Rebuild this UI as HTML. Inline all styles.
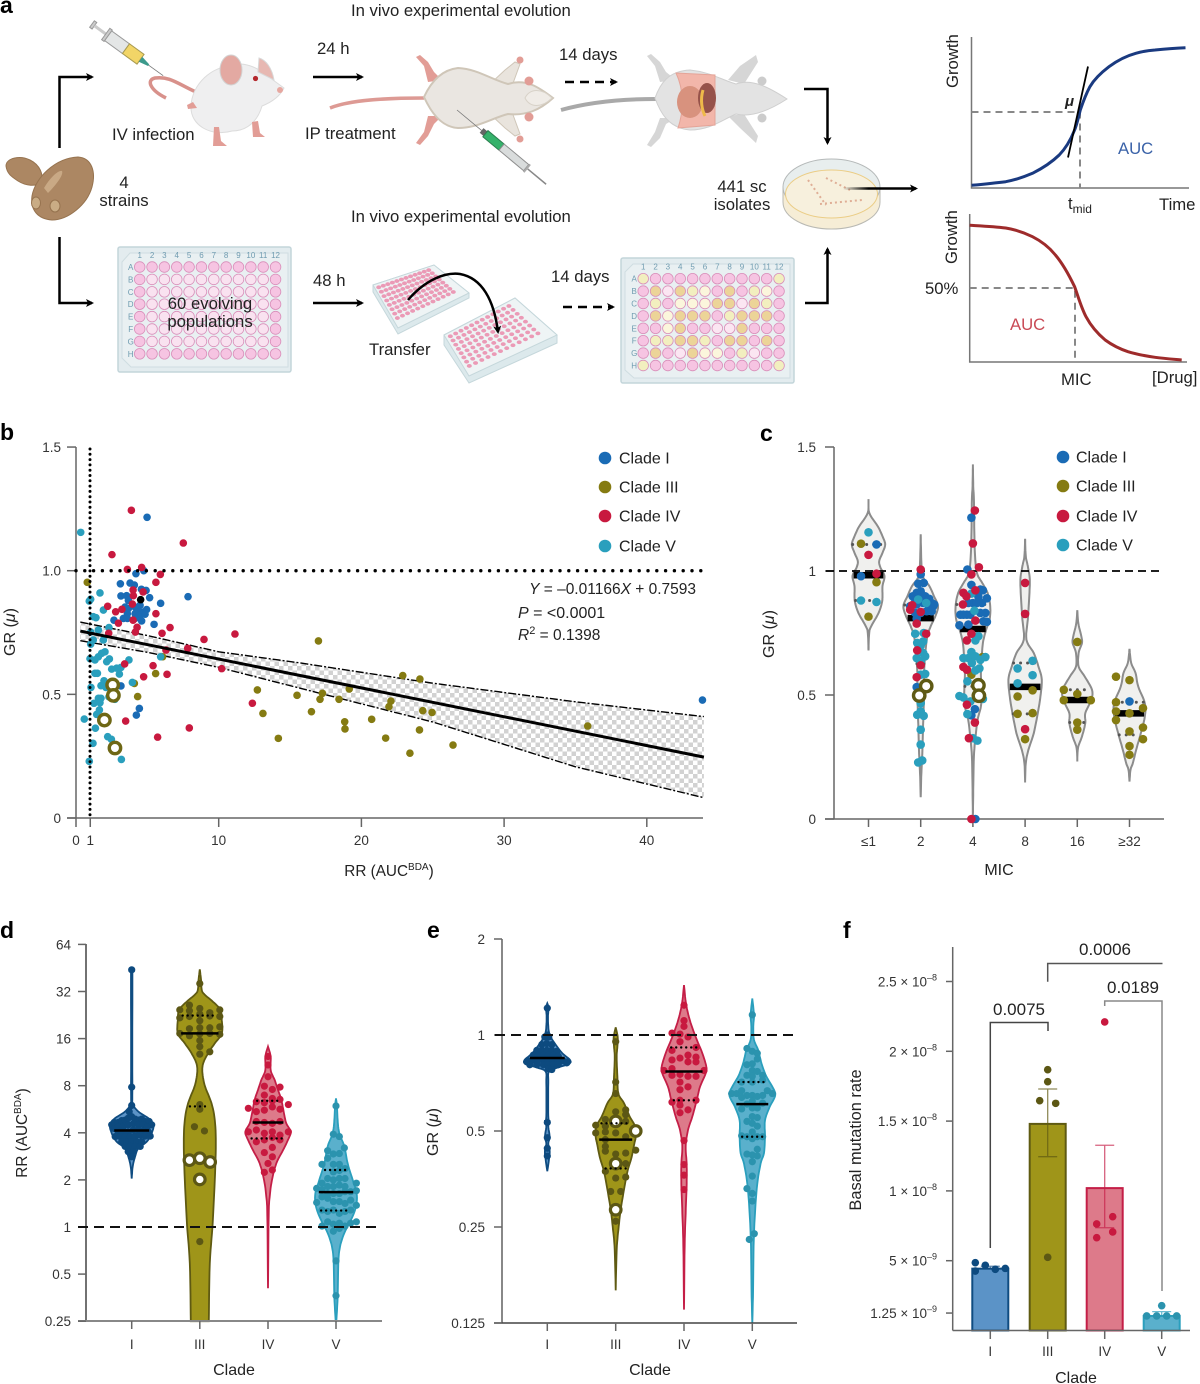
<!DOCTYPE html>
<html lang="en">
<head>
<meta charset="utf-8">
<title>Experimental evolution figure</title>
<style>
html,body{margin:0;padding:0;background:#fff;width:1200px;height:1384px;overflow:hidden}
svg{display:block}
text{font-family:"Liberation Sans",sans-serif;fill:#222}
.t16{font-size:16px}
#panel-a .t16{font-size:16.7px}
.t14{font-size:13.5px;fill:#333}
.pl{font-size:23px;font-weight:bold;fill:#000}
</style>
</head>
<body>
<svg id="figure" xmlns="http://www.w3.org/2000/svg" width="1200" height="1384" viewBox="0 0 1200 1384">
<defs>
<pattern id="checker" width="9" height="9" patternUnits="userSpaceOnUse">
<rect x="0" y="0" width="4.5" height="4.5" fill="#d2d2d2"/>
<rect x="4.5" y="4.5" width="4.5" height="4.5" fill="#d2d2d2"/>
</pattern>
<marker id="ah" markerWidth="8" markerHeight="8" refX="6" refY="4" orient="auto" markerUnits="userSpaceOnUse"><path d="M0,0 L8,4 L0,8 L2,4Z" fill="#000"/></marker>
<linearGradient id="dishArrow" x1="0" x2="1" y1="0" y2="0"><stop offset="0" stop-color="#000" stop-opacity="0"/><stop offset="0.35" stop-color="#000"/></linearGradient>
</defs>

<g id="panel-a">
<text class="pl" x="0" y="13">a</text>
<text class="t16" x="351" y="16">In vivo experimental evolution</text>
<text class="t16" x="351" y="222">In vivo experimental evolution</text>

<g>
<path d="M6,166 C6,158 20,155 30,160 C40,165 44,175 41,182 C36,187 26,186 18,181 C12,177 7,174 6,166Z" fill="#ac8763" stroke="#96734f"/>
<path d="M32,196 C35,178 55,158 78,157 C92,158 96,172 92,187 C87,205 68,220 52,220 C38,219 30,210 32,196Z" fill="#ac8763" stroke="#96734f"/>
<path d="M44,188 C50,178 58,170 62,171 C64,175 55,186 48,193Z" fill="#c9a985"/>
<ellipse cx="36" cy="203" rx="4.5" ry="6" fill="#c9ac85" stroke="#96734f"/>
<ellipse cx="55" cy="206" rx="5" ry="6" fill="#c9ac85" stroke="#96734f"/>
</g>
<text class="t16" x="124" y="188" text-anchor="middle">4</text>
<text class="t16" x="124" y="206" text-anchor="middle">strains</text>

<g><path d="M59.5,148 V77 H92" fill="none" stroke="#000" stroke-width="2.5" marker-end="url(#ah)"/></g>
<g><path d="M59.5,237 V303 H92" fill="none" stroke="#000" stroke-width="2.5" marker-end="url(#ah)"/></g>

<g transform="translate(92,24) rotate(36)">
<rect x="0" y="-4" width="3" height="8" fill="#ccc" stroke="#999"/>
<rect x="3" y="-1.5" width="14" height="3" fill="#ccc"/>
<rect x="17" y="-7" width="3" height="14" fill="#ccc" stroke="#999"/>
<rect x="20" y="-6" width="22" height="12" fill="#e4e6e6" stroke="#9a9a9a"/>
<rect x="42" y="-6" width="18" height="12" fill="#f2d567" stroke="#a89a50"/>
<path d="M60,-3 L70,-1 L70,1 L60,3Z" fill="#3c9a8c"/>
<line x1="70" y1="0" x2="88" y2="0" stroke="#777" stroke-width="0.8"/>
</g>
<g>
<path d="M196,92 C178,84 170,76 155,78 C146,80 150,90 166,98" fill="none" stroke="#d8918b" stroke-width="3.5"/>
<path d="M191,106 C192,84 212,66 232,66 C245,60 262,70 273,80 L284,88 C280,96 272,102 262,106 C258,120 248,131 232,131 C212,137 190,126 191,106Z" fill="#efeff0" stroke="#dcdcdc"/>
<ellipse cx="231" cy="70" rx="11" ry="15" fill="#e3a9a2" stroke="#d2d2d2"/>
<path d="M258,72 L259,58 C266,60 272,68 274,80Z" fill="#e7b8b2" stroke="#d8d8d8"/>
<circle cx="255.5" cy="78.5" r="2.6" fill="#b4282e"/>
<circle cx="280" cy="90" r="3" fill="#e7a7a0"/>
<path d="M187,105 l6,-3 l4,6 l-9,1Z M214,127 l5,0 l2,14 l6,5 l-14,0Z M252,122 l6,-1 l2,12 l5,4 l-12,0Z" fill="#e29d96"/>
</g>
<text class="t16" x="112" y="140">IV infection</text>
<text class="t16" x="317" y="54">24 h</text>
<g><line x1="313" y1="77" x2="362" y2="77" stroke="#000" stroke-width="2.5" marker-end="url(#ah)"/></g>
<text class="t16" x="305" y="139">IP treatment</text>

<g>
<path d="M330,108 C350,100 385,98 424,98" fill="none" stroke="#dd9a94" stroke-width="3.5"/>
<path d="M442,80 L428,82 L424,66 L416,57 L420,55 L428,62 L434,72Z M442,116 L428,116 L424,132 L416,143 L420,145 L428,136 L434,124Z" fill="#e29d96"/>
<path d="M490,84 L505,70 L515,62 L520,64 L512,86Z M490,114 L505,128 L515,136 L520,134 L512,112Z" fill="#e9e4dd" stroke="#cfc6b8"/>
<circle cx="520" cy="60" r="3.5" fill="#e29d96"/><circle cx="520" cy="139" r="3.5" fill="#e29d96"/>
<path d="M424,97 C430,84 440,70 458,68 C478,69 492,80 508,84 C526,78 540,88 553,98 C540,110 526,116 508,114 C492,118 478,128 458,128 C440,127 430,110 424,97Z" fill="#eae6e1" stroke="#cfc6b8" stroke-width="2"/>
<circle cx="529" cy="81" r="4.5" fill="#e29d96"/><circle cx="529" cy="117" r="4.5" fill="#e29d96"/>
<path d="M525,98 C530,88 542,88 552,98 C542,108 530,108 525,98Z" fill="#f0ece7" stroke="#d8d2c8"/>
</g>
<g transform="translate(457,110) rotate(39.8)">
<line x1="0" y1="0" x2="32" y2="0" stroke="#777" stroke-width="0.8"/>
<rect x="32" y="-3" width="5" height="6" fill="#666"/>
<rect x="37" y="-4" width="21" height="8" fill="#35b26b" stroke="#2c7f50"/>
<rect x="58" y="-4" width="32" height="8" fill="#d9dcdc" stroke="#8e8e8e"/>
<rect x="90" y="-5" width="2" height="10" fill="#aaa"/>
<line x1="92" y1="0" x2="116" y2="0" stroke="#888" stroke-width="1.5"/>
</g>
<text class="t16" x="559" y="60">14 days</text>
<g><line x1="565" y1="82" x2="616" y2="82" stroke="#000" stroke-width="2.5" stroke-dasharray="9 6" marker-end="url(#ah)"/></g>

<g>
<path d="M561,110 C590,102 620,99 656,99" fill="none" stroke="#a9a9a9" stroke-width="4"/>
<path d="M676,80 L660,82 L655,66 L647,56 L651,54 L660,62 L666,72Z M676,118 L660,118 L655,132 L647,145 L651,147 L660,138 L666,124Z M728,80 L740,66 L756,55 L758,62 L744,84Z M728,116 L740,128 L756,143 L758,136 L744,114Z" fill="#d6d6d6"/>
<path d="M655,98 C660,84 668,71 690,70 C710,72 722,80 736,84 C752,78 770,88 787,99 C770,110 752,118 736,114 C722,120 710,130 690,130 C668,128 660,112 655,98Z" fill="#e3e3e3" stroke="#cfcfcf"/>
<circle cx="762" cy="81" r="4.5" fill="#ccc"/><circle cx="762" cy="118" r="4.5" fill="#ccc"/>
<path d="M676,73 L715,75 L715,125 L678,128 C684,110 684,90 676,73Z" fill="#f2b6aa" stroke="#e4a498"/>
<ellipse cx="690" cy="102" rx="13" ry="16" fill="#d8927e"/>
<ellipse cx="707" cy="98" rx="9" ry="15" fill="#96524a"/>
<path d="M703,90 C700,100 702,110 705,116" fill="none" stroke="#eeb94a" stroke-width="3"/>
</g>
<g><path d="M804,89 H827.5 V143" fill="none" stroke="#000" stroke-width="2.5" marker-end="url(#ah)"/></g>
<g><path d="M805,303 H827.5 V249" fill="none" stroke="#000" stroke-width="2.5" marker-end="url(#ah)"/></g>

<g>
<path d="M783,188 V202 C783,218 806,229 831.5,229 C857,229 880,218 880,202 V188Z" fill="#f6edd6" stroke="#b9b9b3"/>
<ellipse cx="831.5" cy="187" rx="48.5" ry="28" fill="#e8eeee" stroke="#b5b9b9"/>
<ellipse cx="831.5" cy="194" rx="46" ry="24" fill="#f7f0dd" stroke="#ebcd86"/>
<path d="M808,180 L826,205 M820,204 L862,200 M826,178 L850,190" stroke="#dfae96" stroke-width="2" stroke-dasharray="2 3" fill="none"/>
</g>
<text class="t16" x="742" y="192" text-anchor="middle">441 sc</text>
<text class="t16" x="742" y="210" text-anchor="middle">isolates</text>
<g><line x1="843" y1="188.5" x2="916" y2="188.5001" stroke="url(#dishArrow)" stroke-width="2.5" marker-end="url(#ah)"/></g>

<g>
<rect x="118" y="247" width="173" height="125" rx="2" fill="#e3ecef" stroke="#c3d5da" stroke-width="1.5"/>
<path d="M122,262 L130,253 H288 V367 H131 L122,358Z" fill="#e9f0f2" stroke="#cfdde1"/>
<g id="plate1"></g>
</g>
<text class="t16" x="210" y="309" text-anchor="middle">60 evolving</text>
<text class="t16" x="210" y="327" text-anchor="middle">populations</text>
<text class="t16" x="313" y="286">48 h</text>
<g><line x1="313" y1="303" x2="362" y2="303" stroke="#000" stroke-width="2.5" marker-end="url(#ah)"/></g>

<g>
<path d="M373,285 L434,265 L469,293 L469,298 L398,334 L373,292Z" fill="#dce9ec" stroke="#c5d7db"/>
<path d="M373,285 L434,265 L469,293 L398,328Z" fill="#eef4f5" stroke="#c5d7db"/>
<g id="tp1"></g>
<path d="M444,335 L515,298 L557,335 L557,343 L469,383 L444,345Z" fill="#dce9ec" stroke="#c5d7db"/>
<path d="M444,335 L515,298 L557,335 L469,376Z" fill="#eef4f5" stroke="#c5d7db"/>
<g id="tp2"></g>
<path d="M408,300 C425,280 445,272 460,274 C482,278 494,300 498,332" fill="none" stroke="#000" stroke-width="2.5" marker-end="url(#ah)"/>
</g>
<text class="t16" x="369" y="355">Transfer</text>
<text class="t16" x="551" y="282">14 days</text>
<g><line x1="563" y1="307" x2="613" y2="307" stroke="#000" stroke-width="2.5" stroke-dasharray="9 6" marker-end="url(#ah)"/></g>
<g>
<rect x="621" y="258" width="173" height="125" rx="2" fill="#e3ecef" stroke="#c3d5da" stroke-width="1.5"/>
<path d="M625,272 L633,264 H790 V378 H634 L625,370Z" fill="#e9f0f2" stroke="#cfdde1"/>
<g id="plate2"></g>
</g>

<g>
<path d="M971.5,37 V188 H1189" fill="none" stroke="#777" stroke-width="1.5"/>
<path d="M971.5,112 H1080 V188" fill="none" stroke="#888" stroke-width="2" stroke-dasharray="7 5"/>
<path d="M971.6,185.3 C985,184 995,183 1005.7,181.7 C1015,180 1024,177 1032.5,173.3 C1043,168 1052,162 1059.2,155 C1066,148 1071,139 1074.6,130 C1077,124 1078.5,117 1080.3,110 C1083,102 1086,94 1089.9,86.7 C1095,78 1102,72 1109,66.7 C1118,60 1126,56 1135.8,53.3 C1142,51.5 1148,50.5 1155,50 C1165,49 1175,48.2 1185.5,47.7" fill="none" stroke="#1a3a80" stroke-width="3"/>
<line x1="1068" y1="157.5" x2="1088" y2="66.5" stroke="#000" stroke-width="1.8"/>
<text x="1065" y="106" font-size="15" font-style="italic" font-weight="bold" style="font-size:15px">μ</text>
<text class="t16" x="1118" y="154" style="fill:#3a62a8">AUC</text>
<text class="t16" x="1068" y="209">t<tspan font-size="12" dy="4">mid</tspan></text>
<text class="t16" x="1159" y="210">Time</text>
<text class="t16" transform="translate(958,88) rotate(-90)">Growth</text>
</g>
<g>
<path d="M969.7,214 V362 H1187" fill="none" stroke="#777" stroke-width="1.5"/>
<path d="M969.7,288 H1075 V362" fill="none" stroke="#888" stroke-width="2" stroke-dasharray="7 5"/>
<path d="M969.7,225.3 C982,226 994,226.5 1005.7,228 C1015,229.5 1024,232.5 1032.5,236.7 C1041,241 1049,247 1055.4,255 C1063,264 1069,275 1074.6,286.7 C1078,296 1081,307 1086,316.7 C1091,326 1098,334 1105.2,340 C1112,345 1120,349 1128,351.7 C1137,354.5 1146,356 1155,357.3 C1164,358.5 1173,359.2 1181.7,360" fill="none" stroke="#9e2b2b" stroke-width="3"/>
<text class="t16" x="925" y="294">50%</text>
<text class="t16" x="1010" y="330" style="fill:#c94a55">AUC</text>
<text class="t16" x="1061" y="385">MIC</text>
<text class="t16" x="1152" y="383">[Drug]</text>
<text class="t16" transform="translate(957,264) rotate(-90)">Growth</text>
</g>
</g>

<g id="panel-b">
<text class="pl" x="0" y="440">b</text>
<text class="t16" transform="translate(15,632) rotate(-90)" text-anchor="middle">GR (<tspan font-style="italic">μ</tspan>)</text>
<text x="389" y="876" text-anchor="middle" style="font-size:15.3px">RR (AUC<tspan font-size="10" dy="-6">BDA</tspan><tspan dy="6">)</tspan></text>
<text x="696" y="594" text-anchor="end" style="font-size:15.5px"><tspan font-style="italic">Y</tspan> = –0.01166<tspan font-style="italic">X</tspan> + 0.7593</text>
<text class="t16" x="518" y="618"><tspan font-style="italic">P</tspan> = &lt;0.0001</text>
<text x="518" y="640" style="font-size:15.5px"><tspan font-style="italic">R</tspan><tspan font-size="11" dy="-6">2</tspan><tspan dy="6"> = 0.1398</tspan></text>
</g>
<g id="panel-c">
<text class="pl" x="760" y="441">c</text>
<text class="t16" transform="translate(774,634) rotate(-90)" text-anchor="middle">GR (<tspan font-style="italic">μ</tspan>)</text>
<text class="t16" x="999" y="875" text-anchor="middle">MIC</text>
</g>
<g id="panel-d">
<text class="pl" x="0" y="938">d</text>
<text transform="translate(27,1133) rotate(-90)" text-anchor="middle" style="font-size:15.3px">RR (AUC<tspan font-size="10" dy="-6">BDA</tspan><tspan dy="6">)</tspan></text>
<text class="t16" x="234" y="1375" text-anchor="middle">Clade</text>
</g>
<g id="panel-e">
<text class="pl" x="427" y="938">e</text>
<text class="t16" transform="translate(438,1132) rotate(-90)" text-anchor="middle">GR (<tspan font-style="italic">μ</tspan>)</text>
<text class="t16" x="650" y="1375" text-anchor="middle">Clade</text>
</g>
<g id="panel-f">
<text class="pl" x="843" y="938">f</text>
<text transform="translate(861,1140) rotate(-90)" text-anchor="middle" style="font-size:16.4px">Basal mutation rate</text>
<text class="t16" x="1076" y="1383" text-anchor="middle">Clade</text>
</g>
</svg>

<script>
/* ---------- colours ---------- */
const BLUE='#1a6bb5',OLIVE='#857b12',RED='#c8193f',TEAL='#2a9fbd';

/* ---------- panel b data: [RR, GR] ---------- */
const bTicksX=[0,1,10,20,30,40];
const bTicksY=[0,0.5,1,1.5];
const bTickLabelsY=['0','0.5','1.0','1.5'];
const bLegend=['Clade I','Clade III','Clade IV','Clade V'];
const bCladeV=[[.33,1.155],[1.68,.91],[.93,.877],[1.03,.885],[1.92,.841],[1.21,.814],[1.4,.81],[2.31,.77],[1.57,.76],[1.03,.752],[1.21,.72],[1.92,.72],[1.03,.703],[.98,.644],[1.33,.639],[1.57,.652],[1.8,.666],[2.03,.672],[2.15,.632],[2.34,.643],[3.71,.639],[2.5,.602],[2.85,.606],[3.15,.609],[3.04,.582],[1.33,.585],[1.5,.585],[3.95,.548],[1.96,.555],[1.75,.535],[2.1,.528],[1.05,.528],[1.57,.484],[1.75,.484],[1.26,.464],[1.68,.466],[2.31,.49],[2.73,.48],[1.64,.437],[1.45,.419],[.58,.4],[1.36,.363],[2.22,.329],[2.48,.318],[1.19,.302],[.93,.229],[3.18,.237],[5.93,.652]];
const bCladeI=[[4.98,1.216],[4.2,.988],[4.75,1.0],[3.11,.947],[3.79,.95],[4.09,.942],[4.58,.925],[4.91,.92],[3.15,.898],[3.55,.899],[5.16,.891],[7.85,.895],[5.93,.868],[3.67,.88],[3.44,.853],[3.67,.847],[4.14,.853],[4.49,.86],[4.37,.833],[4.72,.833],[4.95,.843],[3.6,.826],[4.14,.826],[4.49,.82],[4.84,.824],[2.66,.8],[3.32,.807],[3.6,.807],[4.14,.807],[4.6,.797],[5.47,.783],[3.15,.534],[4.44,.443],[4.23,.416],[43.9,.477]];
const bCladeIV=[[3.88,1.244],[7.52,1.112],[2.52,1.065],[3.6,1.005],[4.6,1.013],[5.91,.985],[5.6,.953],[4.0,.922],[4.02,.899],[4.7,.914],[3.95,.865],[2.22,.856],[2.78,.834],[3.22,.844],[5.6,.826],[2.97,.788],[4.0,.8],[4.28,.771],[4.16,.752],[6.03,.747],[6.59,.77],[2.29,.747],[8.97,.722],[11.14,.744],[7.83,.686],[6.31,.679],[3.41,.623],[5.4,.616],[10.21,.604],[6.38,.581],[4.74,.571],[12.36,.464],[3.48,.392],[7.94,.364],[5.72,.327]];
const bCladeIII=[[.79,.953],[16.99,.716],[12.71,.518],[13.1,.423],[14.18,.322],[15.49,.496],[16.5,.43],[17.1,.48],[17.27,.504],[18.43,.48],[4.09,.544],[4.32,.491],[5.58,.584],[6.07,.652],[19.15,.522],[18.83,.389],[18.85,.36],[20.72,.399],[21.7,.323],[22.9,.576],[24.1,.562],[22.07,.473],[21.93,.45],[23.4,.262],[24.07,.356],[24.3,.434],[24.95,.427],[26.42,.295],[35.86,.372]];
const bParentRings=[[2.57,.538],[2.62,.496],[1.99,.396],[2.73,.283]];
const bReference=[[4.53,.883]];
const bFitX=[.3,44];
const bFitSlope=-0.01166;
const bFitIntercept=0.7593;
const bCiX=[.3,5,10,15.7,25,35,44];
const bCiUpper=[.792,.738,.672,.627,.545,.47,.41];
const bCiLower=[.717,.67,.609,.525,.388,.207,.082];

/* ---------- panel c data ---------- */
const cCategories=['≤1','2','4','8','16','≥32'];
const cTicksY=[0,.5,1,1.5];
const cTickLabelsY=['0','0.5','1','1.5'];
/* violin density profiles: [GR, density] */
const cViolin0=[[1.29,0],[1.235,2],[1.18,28],[1.14,42],[1.107,50],[1.073,42],[1.04,32],[1.013,36],[.98,48],[.939,42],[.898,42],[.871,40],[.83,30],[.777,8],[.75,2],[.68,0]];
const cViolin1=[[1.148,0],[1.033,2],[.979,6],[.939,26],[.898,40],[.858,52],[.818,44],[.777,30],[.737,20],[.669,14],[.589,10],[.494,10],[.413,8],[.319,6],[.238,4],[.185,2],[.088,0]];
const cViolin2=[[1.43,0],[1.343,1],[1.289,3],[1.18,4],[1.073,6],[.993,12],[.952,28],[.912,44],[.858,52],[.804,50],[.764,40],[.71,30],[.642,26],[.589,24],[.508,26],[.454,24],[.4,14],[.333,8],[.252,3],[.117,1],[0,0]];
const cViolin3=[[1.13,0],[1.06,2],[1.02,8],[.966,14],[.885,12],[.804,8],[.723,4],[.669,26],[.615,40],[.562,50],[.494,46],[.427,38],[.346,26],[.279,10],[.225,2],[.147,0]];
const cViolin4=[[.842,0],[.79,3],[.737,12],[.71,14],[.669,4],[.615,4],[.575,22],[.521,44],[.481,42],[.427,24],[.387,24],[.333,14],[.286,2],[.232,0]];
const cViolin5=[[.686,0],[.629,5],[.589,18],[.535,26],[.467,46],[.413,46],[.346,34],[.279,20],[.225,10],[.198,3],[.151,0]];
const cMedians=[.983,.81,.766,.533,.48,.426];
const cQuartilesUpper=[1.107,.863,.865,.629,.521,.471];
const cQuartilesLower=[.881,.626,.535,.424,.389,.339];
/* points: [category index, swarm slot, GR] */
const cBlue=[[0,1.6,1.107],[0,-1.5,.979],[1,0,.986],[1,-.5,.949],[1,.6,.952],[1,0,.918],[1,-1.6,.898],[1,-.8,.912],[1,.9,.898],[1,1.7,.888],[1,-1.1,.885],[1,-.1,.891],[1,2.7,.865],[1,2.2,.871],[1,1.5,.865],[1,.5,.871],[1,-.8,.865],[1,-2.1,.858],[1,-1.1,.831],[1,1.2,.838],[1,2.2,.838],[1,2.5,.858],[1,0,.831],[1,-.8,.807],[1,-.8,.532],[2,-.3,1.215],[2,-1.1,1.006],[2,-.3,.944],[2,1.5,.925],[2,2,.922],[2,1.1,.896],[2,2.8,.89],[2,0,.871],[2,-.9,.871],[2,.8,.871],[2,1.8,.871],[2,2.5,.831],[2,1.5,.831],[2,-1.2,.824],[2,-2.5,.824],[2,-1.9,.824],[2,-.5,.824],[2,2.1,.797],[2,2.8,.795],[2,-2.7,.781],[2,-.9,.784],[2,.4,.443],[2,-.3,.418],[2,.5,0],[5,0,.474]];
const cOlive=[[0,-1.5,1.11],[0,1.6,.955],[0,0,.816],[2,1.9,.653],[2,-.3,.582],[3,1.5,.519],[3,-1.5,.494],[3,-1.5,.424],[3,1.5,.427],[3,0,.322],[4,0,.714],[4,-2.7,.521],[4,0,.504],[4,-2.7,.479],[4,2.7,.479],[4,0,.389],[4,0,.36],[5,-2.7,.574],[5,0,.56],[5,-2.7,.471],[5,2.7,.447],[5,-2.7,.434],[5,0,.426],[5,-2.7,.399],[5,2.7,.369],[5,0,.353],[5,2.7,.322],[5,0,.294],[5,0,.259]];
const cRed=[[0,0,1.065],[0,1.6,.989],[1,0,1.006],[1,-2.1,.844],[1,-1.7,.862],[1,0,.835],[1,-.8,.788],[1,1.1,.747],[1,-.7,.68],[1,0,.62],[1,-.8,.572],[2,.4,1.244],[2,0,1.111],[2,1.2,1.015],[2,-.3,.986],[2,-1.9,.912],[2,.5,.922],[2,-1.3,.898],[2,-2,.865],[2,.5,.8],[2,-.3,.747],[2,-1.2,.72],[2,-1.9,.613],[2,-1.2,.602],[2,-1.2,.461],[2,.4,.389],[2,-.8,.326],[2,-.3,0],[3,0,.952],[3,0,.827],[3,0,.362]];
const cTeal=[[0,0,1.156],[0,-1.5,.881],[0,1.6,.875],[1,-.5,.885],[1,1.1,.871],[1,-1.1,.747],[1,.6,.75],[1,-.7,.71],[1,.5,.716],[1,0,.699],[1,.5,.669],[1,-.8,.649],[1,.9,.656],[1,0,.636],[1,0,.582],[1,.9,.585],[1,0,.467],[1,0,.434],[1,-.7,.42],[1,.6,.416],[1,0,.36],[1,0,.3],[1,-.5,.228],[1,.3,.236],[2,-.3,.909],[2,.3,.84],[2,.5,.72],[2,1.1,.737],[2,-.3,.673],[2,-1.9,.649],[2,-.9,.649],[2,.5,.656],[2,1.5,.642],[2,2.5,.653],[2,-.2,.629],[2,.5,.599],[2,1.3,.607],[2,-1.1,.555],[2,-2.7,.496],[2,-1.9,.49],[2,-.5,.474],[2,2,.484],[2,-1.1,.423],[2,0,.326],[2,.9,.316],[3,1.5,.638],[3,-1.5,.607],[3,1.5,.58],[3,-1.5,.547]];
const cRings=[[1,1.1,.536],[1,-.3,.498],[2,1.1,.539],[2,1.2,.497]];

/* ---------- panel d data: log2(RR) ---------- */
const cladeLabels=['I','III','IV','V'];
const dTicksLog=[6,5,4,3,2,1,0,-1,-2];
const dTickLabels=['64','32','16','8','4','2','1','0.5','0.25'];
const dViolinI=[[5.46,2],[2.98,2],[2.63,3],[2.45,20],[2.31,50],[2.17,65],[1.99,60],[1.81,45],[1.67,20],[1.49,10],[1.28,3],[1.03,0]];
const dViolinIII=[[5.47,0],[5.24,4],[5.03,6],[4.93,15],[4.78,40],[4.61,62],[4.39,66],[4.11,66],[3.9,45],[3.69,25],[3.47,10],[3.26,8],[2.98,16],[2.63,35],[2.27,45],[1.78,48],[1,45],[.01,38],[-.77,30],[-2,27]];
const dViolinIV=[[3.83,0],[3.62,8],[3.33,8],[3.12,20],[2.91,30],[2.7,40],[2.41,48],[2.2,55],[2.02,68],[1.85,60],[1.63,45],[1.35,25],[1,12],[.64,5],[.22,2],[-1.3,0]];
const dViolinV=[[2.73,0],[2.55,3],[2.27,5],[1.99,10],[1.71,25],[1.35,35],[1,50],[.71,62],[.43,60],[.15,45],[-.13,25],[-.42,12],[-.77,7],[-1.48,5],[-2,1]];
const dMedians=[2.05,4.11,2.22,.74];
const dUpper=[2.05,4.49,2.68,1.21];
const dLower=[2.05,2.56,1.88,.35];
const dPointsI=[[0,5.46],[0,2.97],[0,2.58],[-.5,2.45],[-4,2.17],[-3.5,2.22],[-2.7,2.22],[-2,2.26],[-1.3,2.27],[-.7,2.31],[0,2.34],[.7,2.29],[1.3,2.27],[2,2.29],[2.7,2.24],[3.5,2.24],[4,2.17],[-3.5,2.09],[-2.7,2.13],[-1.7,2.13],[-.7,2.17],[.3,2.19],[1.3,2.17],[2.3,2.17],[3.1,2.12],[-2.7,2.02],[-1.7,2.02],[-.7,2.02],[.3,2.06],[1.3,2.06],[2.3,2.04],[3.3,2.02],[-3.3,1.92],[-2.3,1.92],[-1.3,1.92],[-.3,1.92],[.7,1.93],[1.7,1.95],[2.7,1.93],[3.7,1.93],[-2,1.81],[-1,1.81],[0,1.81],[1,1.81],[2,1.81],[-1.3,1.71],[-.3,1.71],[.7,1.71],[1.7,1.71],[-.7,1.6],[.3,1.6],[0,1.49]];
const dPointsIII=[[0,5.17],[-2.07,4.71],[-4,4.61],[-2.07,4.59],[0,4.64],[2,4.55],[4,4.61],[-4,4.44],[-2.07,4.47],[0,4.52],[2,4.48],[4,4.47],[0,4.38],[-2.07,4.21],[0,4.23],[2,4.23],[4,4.25],[-4,4.11],[-2.07,4.06],[0,4.1],[2,4.11],[4,4.09],[0,3.96],[0,3.83],[0,3.67],[2,3.72],[0,2.6],[0,2.5],[-1.07,2.13],[.93,2.04],[0,-.31]];
const dRingsIII=[[-2.07,1.42],[0,1.46],[2.07,1.38],[0,1.01]];
const dPointsIV=[[0,3.62],[0,3.44],[0,3.19],[-.73,2.99],[2.4,2.97],[.87,2.92],[-.73,2.8],[.87,2.73],[2.4,2.71],[-2.33,2.66],[-.73,2.64],[.87,2.68],[-3.93,2.52],[-2.33,2.45],[-.73,2.48],[.87,2.55],[2.4,2.5],[4.07,2.6],[-3.93,2.02],[-2.33,2.06],[-.73,1.99],[.87,2.02],[2.4,1.95],[4.07,2.02],[-2.33,2.24],[-.73,2.22],[.87,2.2],[2.4,2.24],[-2.33,1.81],[-.73,1.85],[.87,1.9],[2.4,1.85],[-.73,1.58],[.87,1.69],[0,1.35],[.87,1.49],[-.73,1.16],[.87,1.21]];
const dPointsV=[[0,2.57],[-.53,1.97],[.67,1.92],[-1.67,1.62],[1.67,1.68],[-.53,1.55],[.67,1.56],[-2.8,1.33],[-1.67,1.46],[-.53,1.33],[.67,1.33],[1.8,1.24],[-.53,1.17],[.67,1.2],[-1.67,1.03],[-.53,1],[.67,1.03],[1.8,1.03],[-2.8,.93],[-1.67,.86],[-.53,.86],[.67,.89],[1.8,.86],[4.07,.93],[-3.87,.82],[-2.8,.79],[-1.67,.71],[-.53,.71],[.67,.71],[1.8,.75],[2.93,.75],[4.07,.77],[-3.87,.52],[-2.8,.64],[-1.67,.61],[-.53,.54],[.67,.54],[1.8,.5],[2.93,.57],[4.07,.46],[-2.8,.36],[-1.67,.33],[-.53,.36],[.67,.29],[1.8,.33],[2.93,.36],[-2.8,.02],[-1.67,.11],[-.53,.06],[.67,.08],[1.8,.02],[2.93,.08],[4.07,.11],[-.53,-.09],[.67,-.03],[0,-.72],[0,-1.46]];

/* ---------- panel e data: log2(GR) ---------- */
const eTicksLog=[1,0,-1,-2,-3];
const eTickLabels=['2','1','0.5','0.25','0.125'];
const eViolinI=[[.33,0],[.28,4],[.19,2],[.05,4],[-.02,10],[-.1,25],[-.19,45],[-.26,68],[-.3,65],[-.34,30],[-.38,5],[-.5,3],[-.85,3],[-.9,7],[-.95,3],[-1.06,7],[-1.13,3],[-1.2,7],[-1.27,6],[-1.42,0]];
const eViolinIII=[[.08,0],[-.02,6],[-.12,5],[-.23,3],[-.43,5],[-.61,8],[-.71,25],[-.85,42],[-.95,58],[-1.06,60],[-1.13,56],[-1.27,48],[-1.41,36],[-1.61,25],[-1.82,15],[-2.03,8],[-2.24,3],[-2.66,0]];
const eViolinIV=[[.52,0],[.33,6],[.16,17],[-.02,35],[-.19,55],[-.33,67],[-.4,65],[-.54,48],[-.68,38],[-.85,25],[-.99,12],[-1.16,5],[-1.34,8],[-1.55,8],[-1.86,5],[-2.2,2],[-2.86,0]];
const eViolinV=[[.38,0],[.21,5],[.09,3],[-.05,5],[-.16,18],[-.3,28],[-.43,42],[-.57,65],[-.64,68],[-.75,52],[-.89,38],[-1.06,38],[-1.23,35],[-1.34,25],[-1.55,15],[-1.86,8],[-2.2,4],[-2.73,2],[-3,0]];
const eMedians=[-.24,-1.09,-.38,-.72];
const eUpper=[-.24,-.92,-.13,-.49];
const eLower=[-.24,-1.39,-.68,-1.06];
const ePointsI=[[0,.28],[0,0],[-.5,-.02],[.3,-.02],[-1.1,-.1],[-.1,-.09],[.9,-.1],[-2.1,-.16],[-1.1,-.16],[-.1,-.16],[.9,-.16],[1.9,-.17],[-2.8,-.21],[-1.8,-.21],[-.8,-.21],[.2,-.21],[1.2,-.21],[2.2,-.22],[-3.8,-.27],[-2.8,-.26],[-1.8,-.26],[-.8,-.26],[.2,-.26],[1.2,-.26],[2.2,-.26],[3.2,-.27],[4,-.28],[-4.1,-.28],[-3.5,-.31],[-2.1,-.31],[-.8,-.31],[.2,-.31],[1.2,-.31],[2.2,-.31],[3.9,-.29],[.2,-.35],[.9,-.36],[0,-.91],[0,-1.07],[0,-1.18],[0,-1.26]];
const ePointsIII=[[0,-.07],[0,-.49],[0,-.61],[2,-.78],[0,-.8],[-2.07,-.88],[2,-.83],[-4,-.94],[-2.07,-.95],[2,-.9],[-4,-1.02],[-2.07,-1.01],[0,-1.02],[2,-1.06],[-2.07,-1.09],[-2.07,-1.16],[-2.07,-1.21],[4,-1.2],[0,-1.24],[2,-1.23],[2,-1.34],[-2.07,-1.42],[0,-1.49],[2,-1.48],[-1,-1.63],[1,-1.63],[0,-1.94]];
const eRingsIII=[[0,-.9],[4,-1],[0,-1.34],[0,-1.82]];
const ePointsIV=[[0,.31],[0,.15],[0,.09],[-2.4,.02],[-.8,.01],[.8,-.02],[-.8,-.07],[2.4,-.13],[-2.4,-.16],[.8,-.21],[2.4,-.23],[-2.4,-.26],[-.8,-.24],[.8,-.28],[2.4,-.28],[-4,-.37],[-2.4,-.35],[-.8,-.41],[.8,-.43],[2.4,-.43],[4,-.37],[-2.4,-.42],[-.8,-.49],[.8,-.54],[-.8,-.57],[-2.4,-.7],[-.8,-.68],[2.4,-.68],[-.8,-.73],[.8,-.78],[-.8,-.81],[0,-1.1],[0,-1.35],[0,-1.46],[0,-1.61]];
const ePointsV=[[0,.21],[-1.07,-.14],[0,-.17],[1,-.19],[1,-.25],[-1.07,-.31],[0,-.3],[0,-.37],[1,-.38],[-1.07,-.42],[2.07,-.42],[0,-.43],[-2.13,-.49],[0,-.49],[2.07,-.47],[-4.13,-.61],[-3.13,-.61],[-2.13,-.58],[-1.07,-.63],[0,-.63],[1,-.64],[2.07,-.63],[3,-.58],[4,-.61],[-2.13,-.65],[0,-.69],[-1.07,-.72],[2.07,-.71],[-2.13,-.77],[0,-.76],[1,-.76],[0,-.85],[1,-.86],[-1.07,-.9],[0,-.92],[1,-.95],[0,-1.01],[-2.13,-1.05],[-1.07,-1.06],[1,-1.06],[0,-1.08],[2.07,-1.06],[1,-1.19],[-1.07,-1.24],[0,-1.25],[1,-1.26],[0,-1.32],[0,-1.47],[-1.07,-1.6],[0,-1.65],[0,-1.73],[.4,-2.07],[-.6,-2.13]];

/* ---------- panel f data (units of 1e-9) ---------- */
const fTickValues=[25,20,15,10,5,1.25];
const fTickMantissa=['2.5','2','1.5','1','5','1.25'];
const fTickExponent=['–8','–8','–8','–8','–9','–9'];
const fMeans=[4.43,14.8,10.2,1.04];
const fErrUpper=[4.6,17.3,13.27,1.35];
const fErrLower=[4.43,12.45,7.36,1.04];
const fPointsI=[[-3,4.86],[-3,4.26],[-1,4.67],[1,4.38],[3,4.45]];
const fPointsIII=[[0,18.68],[0,17.82],[-1.6,16.46],[1.6,16.27],[0,5.24]];
const fPointsIV=[[0,22.1],[1.6,8.15],[-1.6,7.63],[1.6,7.06],[-1.6,6.65]];
const fPointsV=[[0,1.78],[-3,1.04],[-1,1.04],[1,1.04],[3,1.04]];

/* ---------- helpers ---------- */
const NS='http://www.w3.org/2000/svg';
function mk(tag,attrs,parent){
  const el=document.createElementNS(NS,tag);
  for(const k in attrs) el.setAttribute(k,attrs[k]);
  parent.appendChild(el);
  return el;
}
function dot(parent,cx,cy,r,fill){
  const el=mk('circle',{cx:cx,cy:cy,r:r,fill:fill},parent);
  
  
  return el;
}
function ring(parent,cx,cy,r,stroke,sw){
  const el=mk('circle',{cx:cx,cy:cy,r:r,fill:'#fff',stroke:stroke,'stroke-width':sw},parent);
  
  
  return el;
}
function axisLine(parent,x1,y1,x2,y2,color,sw){
  const el=mk('line',{x1:x1,y1:y1,x2:x2,y2:y2,stroke:color||'#666','stroke-width':sw||1.5},parent);
  
  
  return el;
}
function tick(parent,x1,y1,x2,y2){
  const el=mk('line',{x1:x1,y1:y1,x2:x2,y2:y2,stroke:'#666','stroke-width':1.5},parent);
  
  
  return el;
}
function tickLabel(parent,x,y,str,anchor){
  const el=mk('text',{x:x,y:y,'text-anchor':anchor,'class':'t14'},parent);
  el.textContent=str;
  
  
  return el;
}
function refLine(parent,x1,y1,x2,y2,dash,sw,color){
  const el=mk('line',{x1:x1,y1:y1,x2:x2,y2:y2,stroke:color||'#000','stroke-width':sw,'stroke-dasharray':dash,'stroke-linecap':dash.startsWith('0')?'round':'butt'},parent);
  
  
  return el;
}
function legendEntry(parent,cx,tx,cy,color,label){
  const g=mk('g',{},parent);
  
  
  mk('circle',{cx:cx,cy:cy,r:6.3,fill:color},g);
  const t=mk('text',{x:tx,y:cy+5.5,'class':'t16'},g);
  t.textContent=label;
}
function catmull(pts,n){
  const out=[];
  for(let i=0;i<pts.length-1;i++){
    const p0=pts[Math.max(i-1,0)],p1=pts[i],p2=pts[i+1],p3=pts[Math.min(i+2,pts.length-1)];
    for(let k=0;k<n;k++){
      const t=k/n,t2=t*t,t3=t2*t;
      const a=.5*(2*p1[0]+(p2[0]-p0[0])*t+(2*p0[0]-5*p1[0]+4*p2[0]-p3[0])*t2+(3*p1[0]-p0[0]-3*p2[0]+p3[0])*t3);
      const b=.5*(2*p1[1]+(p2[1]-p0[1])*t+(2*p0[1]-5*p1[1]+4*p2[1]-p3[1])*t2+(3*p1[1]-p0[1]-3*p2[1]+p3[1])*t3);
      out.push([a,Math.max(b,0)]);
    }
  }
  out.push(pts[pts.length-1]);
  return out;
}
const densityScale=d=>d/3;
function violin(parent,profile,cx,yScale,fill,stroke,sw){
  const pts=catmull(profile,6);
  const right=pts.map(p=>(cx+densityScale(p[1])).toFixed(1)+','+yScale(p[0]).toFixed(1));
  const left=pts.slice().reverse().map(p=>(cx-densityScale(p[1])).toFixed(1)+','+yScale(p[0]).toFixed(1));
  const el=mk('path',{d:'M'+right.join('L')+'L'+left.join('L')+'Z',fill:fill,stroke:stroke,'stroke-width':sw},parent);
  
  
  return el;
}
function widthAt(profile,v){
  for(let i=0;i<profile.length-1;i++){
    const a=profile[i],b=profile[i+1];
    if(v<=a[0]&&v>=b[0]){const t=(a[0]-v)/((a[0]-b[0])||1);return densityScale(a[1]+(b[1]-a[1])*t);}
  }
  return 0;
}
function medianLine(parent,cx,y,hw,sw){
  const el=mk('line',{x1:cx-hw,x2:cx+hw,y1:y,y2:y,stroke:'#000','stroke-width':sw},parent);
  
  
  return el;
}
function quartileLine(parent,cx,y,hw,sw,dash,color){
  const el=mk('line',{x1:cx-hw,x2:cx+hw,y1:y,y2:y,stroke:color,'stroke-width':sw,'stroke-dasharray':dash,'stroke-linecap':'round'},parent);
  
  
  return el;
}
function smoothPath(xs,ys){
  return 'M'+xs.map((x,i)=>x.toFixed(1)+','+ys[i].toFixed(1)).join('L');
}

/* ---------- panel a plates ---------- */
const plate1Rows='PPPPPPPPPPPP PaaaaaaaaaaP PaaaaaaaaaaP PaaaaaaaaaaP PaaaaaaaaaaP PaaaaaaaaaaP PaaaaaaaaaaP PPPPPPPPPPPP'.split(' ');
const plate2Rows='YPPPPPPPPPPY POWOYLPOPYLP PYPLLLOOWOYP POLOOOPYOOOP PPLOPPWWOPPP PYYOOYPOOPOP POPWOLLPYWPP YPPPPPPPPPPY'.split(' ');
const wellColors={P:'#f6c4e2',a:'#f9e2f0',Y:'#f2efbf',O:'#ecd498',W:'#fbe6f2',L:'#fbf6dc'};
const rowLetters=['A','B','C','D','E','F','G','H'];
function drawPlate(id,x0,y0,rows){
  const g=document.getElementById(id);
  rows.forEach((row,r)=>{
    [...row].forEach((c,k)=>{
      const el=mk('circle',{cx:x0+k*12.35,cy:y0+r*12.4,r:5.3,fill:wellColors[c],stroke:'#d98fba','stroke-width':.8},g);
      
      
    });
    const lab=mk('text',{x:x0-9,y:y0+r*12.4+3,'text-anchor':'middle','font-size':8,style:'fill:#6f9bb0;font-size:8px'},g);
    lab.textContent=rowLetters[r];
    
    
  });
  for(let k=0;k<12;k++){
    const lab=mk('text',{x:x0+k*12.35,y:y0-9,'text-anchor':'middle',style:'fill:#6f9bb0;font-size:8px'},g);
    lab.textContent=String(k+1);
    
    
  }
}
drawPlate('plate1',139.7,267,plate1Rows);
drawPlate('plate2',643.2,278.7,plate2Rows);
function drawSkewPlate(id,a,b,c,d){
  const g=document.getElementById(id);
  for(let r=0;r<8;r++)for(let k=0;k<12;k++){
    const u=(k+.8)/13.6,v=(r+.8)/9.6;
    const x=a[0]*(1-u)*(1-v)+b[0]*u*(1-v)+c[0]*u*v+d[0]*(1-u)*v;
    const y=a[1]*(1-u)*(1-v)+b[1]*u*(1-v)+c[1]*u*v+d[1]*(1-u)*v;
    const el=mk('ellipse',{cx:x,cy:y,rx:2.5,ry:1.9,fill:'#eb9ab6'},g);
    
    
  }
}
drawSkewPlate('tp1',[373,285],[434,265],[469,293],[398,328]);
drawSkewPlate('tp2',[444,335],[515,298],[557,335],[469,376]);

/* ---------- panel b ---------- */
(function(){
  const p=document.getElementById('panel-b');
  const x=v=>76+14.27*v, y=v=>818-247.3*v;
  const ciTop=bCiX.map(x), upY=bCiUpper.map(y), loY=bCiLower.map(y);
  const band=mk('path',{d:smoothPath(ciTop,upY)+'L'+ciTop.slice().reverse().map((v,i)=>v.toFixed(1)+','+loY[loY.length-1-i].toFixed(1)).join('L')+'Z',fill:'url(#checker)'},p);
  
  
  const up=mk('path',{d:smoothPath(ciTop,upY),fill:'none',stroke:'#000','stroke-width':1.4,'stroke-dasharray':'8 2 2 2'},p);
  
  
  const lo=mk('path',{d:smoothPath(ciTop,loY),fill:'none',stroke:'#000','stroke-width':1.4,'stroke-dasharray':'8 2 2 2'},p);
  
  
  axisLine(p,76,447,76,818);
  axisLine(p,67,818,703,818);
  bTicksX.forEach(v=>{tick(p,x(v),818,x(v),827);tickLabel(p,x(v),845,String(v),'middle');});
  bTicksY.forEach((v,i)=>{tick(p,67,y(v),76,y(v));tickLabel(p,61,y(v)+5,bTickLabelsY[i],'end');});
  bCladeI.forEach(d=>dot(p,x(d[0]),y(d[1]),3.8,BLUE));
  bCladeIII.forEach(d=>dot(p,x(d[0]),y(d[1]),3.8,OLIVE));
  bCladeV.forEach(d=>dot(p,x(d[0]),y(d[1]),3.8,TEAL));
  bCladeIV.forEach(d=>dot(p,x(d[0]),y(d[1]),3.8,RED));
  bReference.forEach(d=>dot(p,x(d[0]),y(d[1]),3.8,'#000'));
  bParentRings.forEach(d=>ring(p,x(d[0]),y(d[1]),5.7,'#6e6715',3.4));
  refLine(p,90,449,90,818,'0 5.3',3);
  refLine(p,76,y(1),703,y(1),'0 8.8',3.4);
  const fit=mk('line',{x1:x(bFitX[0]),y1:y(bFitIntercept+bFitSlope*bFitX[0]),x2:x(bFitX[1]),y2:y(bFitIntercept+bFitSlope*bFitX[1]),stroke:'#000','stroke-width':3},p);
  
  
  [BLUE,OLIVE,RED,TEAL].forEach((c,i)=>legendEntry(p,605,619,[458,487,516,546][i],c,bLegend[i]));
})();

/* ---------- panel c ---------- */
(function(){
  const p=document.getElementById('panel-c');
  const y=v=>819-248*v;
  const catX=i=>868.5+52.2*i;
  const slot=5;
  axisLine(p,834,447,834,819);
  axisLine(p,825,819,1164,819);
  cTicksY.forEach((v,i)=>{tick(p,825,y(v),834,y(v));tickLabel(p,816,y(v)+5,cTickLabelsY[i],'end');});
  [cViolin0,cViolin1,cViolin2,cViolin3,cViolin4,cViolin5].forEach((prof,i)=>{
    violin(p,prof,catX(i),y,'#f0f0ee','#8c8c8c',2);
    medianLine(p,catX(i),y(cMedians[i]),widthAt(prof,cMedians[i])*.95,6.5);
    quartileLine(p,catX(i),y(cQuartilesUpper[i]),widthAt(prof,cQuartilesUpper[i])*.95,3,'0 7','#555');
    quartileLine(p,catX(i),y(cQuartilesLower[i]),widthAt(prof,cQuartilesLower[i])*.95,3,'0 7','#555');
  });
  cCategories.forEach((c,i)=>{tick(p,catX(i),819,catX(i),827);tickLabel(p,catX(i),846,c,'middle');});
  refLine(p,826,y(1),1162,y(1),'8 5',1.8);
  cBlue.forEach(d=>dot(p,catX(d[0])+d[1]*slot,y(d[2]),4.3,BLUE));
  cOlive.forEach(d=>dot(p,catX(d[0])+d[1]*slot,y(d[2]),4.3,OLIVE));
  cTeal.forEach(d=>dot(p,catX(d[0])+d[1]*slot,y(d[2]),4.3,TEAL));
  cRed.forEach(d=>dot(p,catX(d[0])+d[1]*slot,y(d[2]),4.3,RED));
  cRings.forEach(d=>ring(p,catX(d[0])+d[1]*slot,y(d[2]),5.7,'#5f5a14',3.4));
  [BLUE,OLIVE,RED,TEAL].forEach((c,i)=>legendEntry(p,1063,1076,[457,486,516,545][i],c,bLegend[i]));
})();

/* ---------- panels d, e ---------- */
function cladeViolins(p,o){
  const slot=5;
  o.profiles.forEach((prof,i)=>{
    violin(p,prof,o.catX[i],o.y,o.fills[i],o.strokes[i],1.8);
  });
  o.points.forEach((pts,i)=>{
    pts.forEach(d=>dot(p,o.catX[i]+d[0]*slot,o.y(d[1]),3.6,o.dots[i]));
  });
  o.rings.forEach(d=>ring(p,o.catX[1]+d[0]*slot,o.y(d[1]),5.3,'#5c5714',3.2));
  o.profiles.forEach((prof,i)=>{
    medianLine(p,o.catX[i],o.y(o.medians[i]),widthAt(prof,o.medians[i])*.85,2.5);
    if(o.upper[i]!==o.medians[i])quartileLine(p,o.catX[i],o.y(o.upper[i]),widthAt(prof,o.upper[i])*.8,2.4,'0 5','#000');
    if(o.lower[i]!==o.medians[i])quartileLine(p,o.catX[i],o.y(o.lower[i]),widthAt(prof,o.lower[i])*.8,2.4,'0 5','#000');
  });
}
const cladeFills=['#5b93c7','#9f9519','#dd7a8a','#5ab0cc'];
const cladeStrokes=['#0f4c81','#5f5a12','#c41e47','#2a9fbd'];
const cladeDots=['#0d4a7f','#5c5714','#c8193f','#2b93ae'];
(function(){
  const p=document.getElementById('panel-d');
  const y=v=>1227-47.1*v;
  const catX=[131.7,199.8,268,336];
  cladeViolins(p,{profiles:[dViolinI,dViolinIII,dViolinIV,dViolinV],catX:catX,y:y,fills:cladeFills,strokes:cladeStrokes,dots:cladeDots,points:[dPointsI,dPointsIII,dPointsIV,dPointsV],rings:dRingsIII,medians:dMedians,upper:dUpper,lower:dLower});
  axisLine(p,86,944,86,1321,'#444');
  axisLine(p,78,1321,382,1321,'#888',2);
  dTicksLog.forEach((v,i)=>{tick(p,78,y(v),86,y(v));tickLabel(p,71,y(v)+5,dTickLabels[i],'end');});
  cladeLabels.forEach((c,i)=>{tick(p,catX[i],1321,catX[i],1329);tickLabel(p,catX[i],1349,c,'middle');});
  refLine(p,78,y(0),378,y(0),'10 6',2,'#111');
})();
(function(){
  const p=document.getElementById('panel-e');
  const y=v=>1035-96*v;
  const catX=[547.3,615.7,684,752.3];
  cladeViolins(p,{profiles:[eViolinI,eViolinIII,eViolinIV,eViolinV],catX:catX,y:y,fills:cladeFills,strokes:cladeStrokes,dots:cladeDots,points:[ePointsI,ePointsIII,ePointsIV,ePointsV],rings:eRingsIII,medians:eMedians,upper:eUpper,lower:eLower});
  axisLine(p,502,939,502,1323,'#888',2);
  axisLine(p,494,1323,797,1323,'#444');
  eTicksLog.forEach((v,i)=>{tick(p,494,y(v),502,y(v));tickLabel(p,485,y(v)+5,eTickLabels[i],'end');});
  cladeLabels.forEach((c,i)=>{tick(p,catX[i],1323,catX[i],1331);tickLabel(p,catX[i],1349,c,'middle');});
  refLine(p,495,y(0),795,y(0),'10 6',2,'#111');
})();

/* ---------- panel f ---------- */
(function(){
  const p=document.getElementById('panel-f');
  const y=v=>1330.5-13.96*v;
  const catX=[990.3,1047.7,1104.7,1161.7];
  const hw=18, slot=5;
  fMeans.forEach((m,i)=>{
    const b=mk('rect',{x:catX[i]-hw,y:y(m),width:hw*2,height:1330.5-y(m),fill:cladeFills[i],stroke:cladeStrokes[i],'stroke-width':2},p);
    
    
  });
  fErrUpper.forEach((u,i)=>{
    const g=mk('path',{d:'M'+(catX[i]-9.5)+','+y(u)+'H'+(catX[i]+9.5)+'M'+catX[i]+','+y(u)+'V'+y(fErrLower[i])+'M'+(catX[i]-9.5)+','+y(fErrLower[i])+'H'+(catX[i]+9.5),fill:'none',stroke:cladeStrokes[i],'stroke-width':1.3,opacity:.7},p);
    
    
  });
  [fPointsI,fPointsIII,fPointsIV,fPointsV].forEach((pts,i)=>pts.forEach(d=>dot(p,catX[i]+d[0]*slot,y(d[1]),3.8,cladeDots[i])));
  axisLine(p,952.7,947,952.7,1330.5);
  axisLine(p,952.7,1330.5,1190,1330.5);
  fTickValues.forEach((v,i)=>{
    tick(p,946,y(v),952.7,y(v));
    const t=tickLabel(p,937,y(v)+5,fTickMantissa[i]+' × 10','end');
    const s=mk('tspan',{'font-size':9,dy:-6,style:'font-size:9px'},t);
    s.textContent=fTickExponent[i];
  });
  cladeLabels.forEach((c,i)=>{tick(p,catX[i],1330.5,catX[i],1339);tickLabel(p,catX[i],1356,c,'middle');});
  const brackets=[
    {d:[[990.3,1248],[990.3,1022.5],[1048,1022.5],[1048,1031]],c:'#444'},
    {d:[[1047.7,981.7],[1047.7,963.5],[1162.5,963.5]],c:'#555'},
    {d:[[1104.7,1006],[1104.7,1001],[1162,1001],[1162,1291]],c:'#888'}
  ];
  brackets.forEach(b=>{
    const el=mk('path',{d:'M'+b.d.map(q=>q.join(',')).join('L'),fill:'none',stroke:b.c,'stroke-width':1.5},p);
    
    
  });
  const pValues=[['0.0075',1019,1015],['0.0006',1105,955],['0.0189',1133,993]];
  pValues.forEach(v=>{
    const t=mk('text',{x:v[1],y:v[2],'text-anchor':'middle',style:'font-size:17px'},p);
    t.textContent=v[0];
    
    
  });
})();
</script>
</body>
</html>
